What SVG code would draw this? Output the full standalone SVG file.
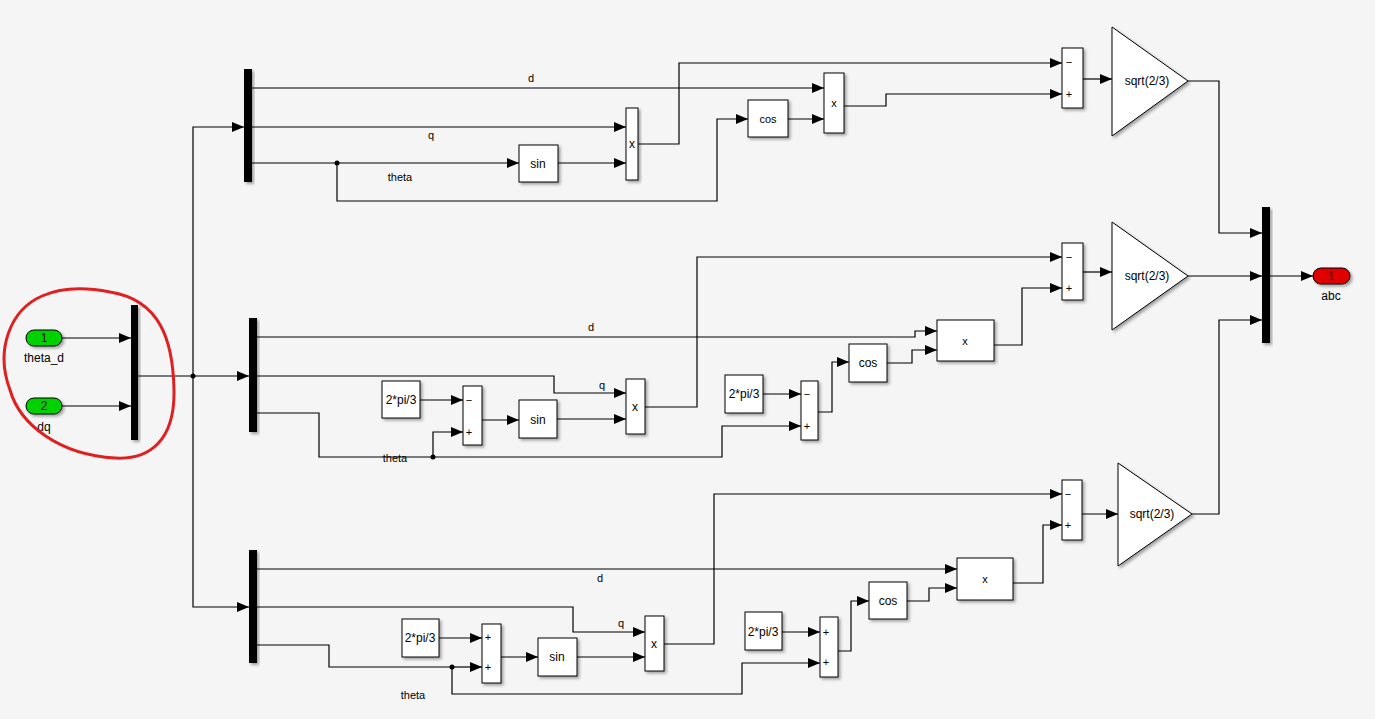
<svg xmlns="http://www.w3.org/2000/svg" width="1375" height="719" viewBox="0 0 1375 719">
<defs>
<marker id="ar" markerWidth="12" markerHeight="10" refX="12" refY="5" orient="auto" markerUnits="userSpaceOnUse"><path d="M0,0 L12,5 L0,10 z" fill="#000"/></marker>
<filter id="sh" x="-20%" y="-20%" width="150%" height="150%"><feDropShadow dx="2" dy="2" stdDeviation="1.5" flood-color="#000" flood-opacity="0.35"/></filter>
</defs>
<style>
.b{fill:#fff;stroke:#000;stroke-width:1;filter:url(#sh)}
.bar{fill:#000;filter:url(#sh)}
.w{fill:none;stroke:#000;stroke-width:1.2}
.a{marker-end:url(#ar)}
text{font-family:"Liberation Sans",Arial,sans-serif;font-size:12px;fill:#000;text-anchor:middle}
.s{font-size:11px}
.l{font-size:11px}
</style>
<rect width="1375" height="719" fill="#f5f5f5"/>
<g id="connectors">
<path class="w a" d="M62,338 H131"/>
<path class="w a" d="M62,406 H131"/>
<path class="w" d="M138,376 H193"/>
<path class="w a" d="M193,376 H249"/>
<path class="w a" d="M193,376 V127 H244"/>
<path class="w a" d="M193,376 V607 H249"/>
<circle cx="193" cy="376" r="2.5"/>
<!-- top -->
<path class="w a" d="M252,88 H824"/>
<path class="w a" d="M252,127 H626"/>
<path class="w a" d="M252,163 H519"/>
<circle cx="337" cy="163" r="2.5"/>
<path class="w a" d="M558,163 H626"/>
<path class="w a" d="M337,163 V201 H717 V119 H748"/>
<path class="w a" d="M788,119 H824"/>
<path class="w a" d="M638,144 H679 V63 H1062"/>
<path class="w a" d="M844,106 H886 V94 H1062"/>
<path class="w a" d="M1083,79 H1112"/>
<path class="w a" d="M1188,81 H1219 V233 H1262"/>
<!-- middle -->
<path class="w a" d="M257,337 H915 V331 H937"/>
<path class="w a" d="M257,376 H554 V393 H626"/>
<path class="w" d="M257,413 H319 V457 H433"/>
<circle cx="433" cy="457" r="2.5"/>
<path class="w a" d="M433,457 H722 V426 H801"/>
<path class="w a" d="M433,457 V432 H463"/>
<path class="w a" d="M420,400 H463"/>
<path class="w a" d="M482,420 H519"/>
<path class="w a" d="M557,419 H626"/>
<path class="w a" d="M645,407 H697 V257 H1062"/>
<path class="w a" d="M763,394 H801"/>
<path class="w a" d="M818,412 H832 V362 H849"/>
<path class="w a" d="M887,363 H912 V350 H937"/>
<path class="w a" d="M994,345 H1022 V288 H1062"/>
<path class="w a" d="M1083,272 H1112"/>
<path class="w a" d="M1188,276 H1262"/>
<path class="w a" d="M1270,276 H1313"/>
<!-- bottom -->
<path class="w a" d="M257,569 H957"/>
<path class="w a" d="M257,607 H573 V632 H645"/>
<path class="w" d="M257,645 H329 V667 H452"/>
<circle cx="452" cy="667" r="2.5"/>
<path class="w a" d="M452,667 H482"/>
<path class="w a" d="M452,667 V694 H742 V663 H820"/>
<path class="w a" d="M439,638 H482"/>
<path class="w a" d="M501,657 H538"/>
<path class="w a" d="M577,657 H645"/>
<path class="w a" d="M664,644 H714 V494 H1062"/>
<path class="w a" d="M782,632 H820"/>
<path class="w a" d="M838,651 H851 V601 H869"/>
<path class="w a" d="M907,601 H929 V588 H957"/>
<path class="w a" d="M1013,583 H1043 V525 H1062"/>
<path class="w a" d="M1082,514 H1118"/>
<path class="w a" d="M1192,514 H1219 V320 H1262"/>
</g>
<g id="labels">
<text x="531" y="82" class="l">d</text>
<text x="431" y="139" class="l">q</text>
<text x="400" y="181" class="l">theta</text>
<text x="591" y="331" class="l">d</text>
<text x="602" y="389" class="l">q</text>
<text x="395" y="462" class="l">theta</text>
<text x="600" y="582" class="l">d</text>
<text x="621" y="627" class="l">q</text>
<text x="413" y="699" class="l">theta</text>
</g>
<g id="in1"><rect x="26" y="330" width="36" height="16" rx="8" fill="#00d200" stroke="#000" filter="url(#sh)"/><text x="44" y="342">1</text><text x="44" y="362">theta_d</text></g>
<g id="in2"><rect x="26" y="398" width="36" height="16" rx="8" fill="#00d200" stroke="#000" filter="url(#sh)"/><text x="44" y="410">2</text><text x="44" y="431">dq</text></g>
<g id="mux1"><rect class="bar" x="131" y="305" width="7" height="135"/></g>
<g id="demux1"><rect class="bar" x="244" y="69" width="8" height="113"/></g>
<g id="demux2"><rect class="bar" x="249" y="318" width="8" height="114"/></g>
<g id="demux3"><rect class="bar" x="249" y="550" width="8" height="113"/></g>
<g id="mux2"><rect class="bar" x="1262" y="207" width="8" height="136"/></g>
<g id="out1"><rect x="1313" y="268" width="37" height="16" rx="8" fill="#e00000" stroke="#000" filter="url(#sh)"/><text x="1331" y="280">1</text><text x="1331" y="300">abc</text></g>
<!-- top row -->
<g id="sin1"><rect class="b" x="519" y="145" width="39" height="37"/><text x="538" y="168">sin</text></g>
<g id="prod1"><rect class="b" x="626" y="108" width="12" height="72"/><text x="632" y="148">x</text></g>
<g id="cos1"><rect class="b" x="748" y="100" width="40" height="37"/><text x="768" y="123" class="s">cos</text></g>
<g id="prod2"><rect class="b" x="824" y="73" width="20" height="60"/><text x="834" y="107" class="s">x</text></g>
<g id="sum1"><rect class="b" x="1062" y="48" width="21" height="60"/><text x="1069" y="66" class="s">−</text><text x="1069" y="98" class="s">+</text></g>
<g id="gain1"><path class="b" d="M1112,27 L1188,81 L1112,136 Z"/><text x="1147" y="85">sqrt(2/3)</text></g>
<!-- middle row -->
<g id="const2"><rect class="b" x="382" y="381" width="38" height="37"/><text x="401" y="404">2*pi/3</text></g>
<g id="sum2a"><rect class="b" x="463" y="386" width="19" height="59"/><text x="469" y="404" class="s">−</text><text x="469" y="436" class="s">+</text></g>
<g id="sin2"><rect class="b" x="519" y="400" width="38" height="38"/><text x="538" y="424">sin</text></g>
<g id="prod3"><rect class="b" x="626" y="379" width="19" height="55"/><text x="635" y="411">x</text></g>
<g id="const3"><rect class="b" x="725" y="375" width="38" height="38"/><text x="744" y="398">2*pi/3</text></g>
<g id="sum2b"><rect class="b" x="801" y="381" width="17" height="59"/><text x="807" y="398" class="s">−</text><text x="807" y="430" class="s">+</text></g>
<g id="cos2"><rect class="b" x="849" y="344" width="38" height="38"/><text x="868" y="367">cos</text></g>
<g id="prod4"><rect class="b" x="937" y="320" width="57" height="41"/><text x="965" y="345" class="s">x</text></g>
<g id="sum2c"><rect class="b" x="1062" y="243" width="21" height="57"/><text x="1069" y="261" class="s">−</text><text x="1069" y="292" class="s">+</text></g>
<g id="gain2"><path class="b" d="M1112,222 L1188,276 L1112,330 Z"/><text x="1147" y="280">sqrt(2/3)</text></g>
<!-- bottom row -->
<g id="const4"><rect class="b" x="402" y="619" width="37" height="38"/><text x="420" y="642">2*pi/3</text></g>
<g id="sum3a"><rect class="b" x="482" y="624" width="19" height="59"/><text x="488" y="641" class="s">+</text><text x="488" y="671" class="s">+</text></g>
<g id="sin3"><rect class="b" x="538" y="638" width="39" height="38"/><text x="557" y="661">sin</text></g>
<g id="prod5"><rect class="b" x="645" y="616" width="19" height="55"/><text x="654" y="648">x</text></g>
<g id="const5"><rect class="b" x="745" y="612" width="37" height="38"/><text x="763" y="636">2*pi/3</text></g>
<g id="sum3b"><rect class="b" x="820" y="617" width="18" height="60"/><text x="826" y="636" class="s">+</text><text x="826" y="666" class="s">+</text></g>
<g id="cos3"><rect class="b" x="869" y="582" width="38" height="37"/><text x="888" y="605">cos</text></g>
<g id="prod6"><rect class="b" x="957" y="558" width="56" height="42"/><text x="985" y="583" class="s">x</text></g>
<g id="sum3c"><rect class="b" x="1062" y="480" width="20" height="60"/><text x="1068" y="498" class="s">−</text><text x="1068" y="529" class="s">+</text></g>
<g id="gain3"><path class="b" d="M1118,463 L1192,514 L1118,566 Z"/><text x="1152" y="518">sqrt(2/3)</text></g>
<path id="circle" d="M42,296 C10,310 -5,350 10,390 C20,425 60,455 115,458 C150,460 175,440 174,390 C173,340 160,300 110,292 C85,287 60,288 42,296" fill="none" stroke="#e02020" stroke-width="3"/>
</svg>
